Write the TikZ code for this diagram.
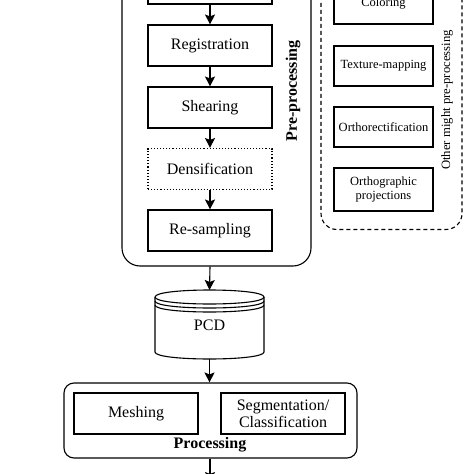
\documentclass[tikz,border=0pt]{standalone}
\usepackage{fontspec}
\setmainfont{Liberation Serif}
\usetikzlibrary{arrows.meta}
\begin{document}
\begin{tikzpicture}[x=1pt,y=-1pt,
  box/.style={draw, line width=1.1pt, minimum width=124pt, minimum height=41pt, inner sep=0pt, font=\fontsize{16}{18}\selectfont},
  sbox/.style={draw, line width=1.1pt, minimum width=99pt, minimum height=40pt, inner sep=0pt, align=center, font=\fontsize{12.5}{14}\selectfont},
  frame/.style={draw, line width=1.1pt, inner sep=0pt},
  arr/.style={-{Stealth[length=10pt,width=10pt,inset=2pt]}, line width=1.1pt},
  plain/.style={line width=1.1pt}
]
\useasboundingbox (0,0) rectangle (474,474);
\clip (0,0) rectangle (474,474);
% pre-processing frame
\node[frame, rounded corners=18pt, minimum width=189pt, minimum height=306pt] (pre) at (216.5,113) {};
\node[font=\bfseries\fontsize{16}{18}\selectfont, rotate=90] (prelab) at (293,91) {Pre-processing};
% steps
\node[box] (top) at (210,-16.5) {};
\node[box] (reg) at (210,45.5) {Registration};
\node[box] (she) at (210,107.5) {Shearing};
\node[box, dotted] (den) at (210,169) {Densification};
\node[box] (rs) at (210,230.5) {Re-sampling};
\draw[arr] (top) -- (reg);
\draw[arr] (reg) -- (she);
\draw[arr] (she) -- (den);
\draw[arr] (den) -- (rs);
% other pre-processing
\node[frame, dash pattern=on 4pt off 3pt, rounded corners=16pt, minimum width=141pt, minimum height=269.5pt] (other) at (391.5,94.75) {};
\node[font=\fontsize{12.7}{14}\selectfont, rotate=90] (otherlab) at (447,100) {Other might pre-processing};
\node[sbox] (col) at (383.5,4) {Coloring};
\node[sbox] (tex) at (383.5,66) {Texture-mapping};
\node[sbox] (ortr) at (383.5,127) {Orthorectification};
\node[sbox, minimum height=43pt] (orpr) at (383.5,189.5) {Orthographic\\projections};
% PCD cylinder
\draw[plain] (155,297) .. controls (155,287.67) and (264,287.67) .. (264,297)
  .. controls (264,306.33) and (155,306.33) .. (155,297);
\draw[plain] (155,301) .. controls (155,310.33) and (264,310.33) .. (264,301);
\draw[plain] (155,305) .. controls (155,314.33) and (264,314.33) .. (264,305);
\draw[plain] (155,297) -- (155,352) .. controls (155,361.33) and (264,361.33) .. (264,352) -- (264,297);
\node[font=\fontsize{16}{18}\selectfont] (pcd) at (209.5,325) {PCD};
\coordinate (pcdtop) at (209.5,290);
\coordinate (pcdbot) at (209.5,359);
\draw[arr] (pre.south -| rs.south) -- (pcdtop);
% processing
\node[frame, rounded corners=10pt, minimum width=293pt, minimum height=75pt] (proc) at (210.5,420.5) {};
\node[box] (mesh) at (136,413.5) {Meshing};
\node[box, align=center, font=\fontsize{16}{17}\selectfont] (seg) at (283,413.5) {Segmentation/\\Classification};
\node[font=\bfseries\fontsize{16}{18}\selectfont] (proclab) at (210,445) {Processing};
\draw[arr] (pcdbot) -- (proc.north -| pcdbot);
\coordinate (endc) at (210,482);
\draw[arr] (proc.south -| endc) -- (endc);
\end{tikzpicture}
\end{document}
